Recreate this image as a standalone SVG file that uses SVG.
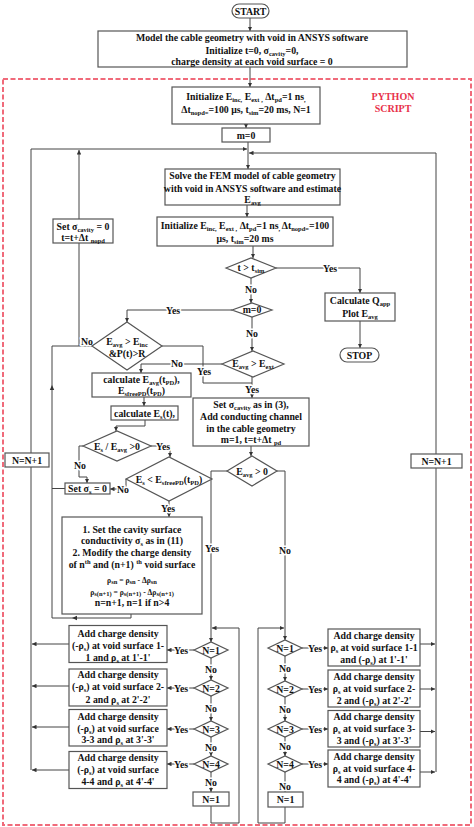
<svg xmlns="http://www.w3.org/2000/svg" width="474" height="827" viewBox="0 0 474 827">
<defs>
<marker id="a" viewBox="0 0 6 6" refX="6" refY="3" markerWidth="4.5" markerHeight="4.5" orient="auto" markerUnits="userSpaceOnUse"><path d="M0,0 L6,3 L0,6 z" fill="#333"/></marker>
<style>
.t{font-family:"Liberation Serif","Times New Roman",serif;font-weight:bold;font-size:9.8px;text-anchor:middle;fill:#111}
.s{font-size:6.5px}
.f{font-size:7.6px}
.l{paint-order:stroke;stroke:#fff;stroke-width:3px;stroke-linejoin:round}
.b{fill:#fff;stroke:#555;stroke-width:1.2}
.c{fill:none;stroke:#444;stroke-width:1}
.ar{marker-end:url(#a)}
.red{fill:#e8324a;font-size:10px}
</style>
</defs>
<rect x="0" y="0" width="474" height="827" fill="#fff"/>
<rect x="3" y="79" width="468" height="746" fill="none" stroke="#f06a7a" stroke-width="2" stroke-dasharray="5 2.5"/>
<g id="python-label"><text class="t red" x="393" y="99.5">PYTHON</text><text class="t red" x="393" y="112">SCRIPT</text></g>

<g id="connectors">
<path class="c ar" d="M250,18 V31"/>
<path class="c ar" d="M250,67 V87"/>
<path class="c ar" d="M246,124 V128"/>
<path class="c ar" d="M248,142 V169"/>
<path class="c ar" d="M31,770 V149 H247"/>
<path class="c ar" d="M436,772 V153 H249"/>
<path class="c ar" d="M79,219 V150"/>
<path class="c" d="M79,243 V346"/>
<path class="c ar" d="M247,205 V217"/>
<path class="c ar" d="M253,246 V258"/>
<path class="c ar" d="M276,268 H360 V293"/>
<path class="c ar" d="M360,321 V348"/>
<path class="c ar" d="M251,278 V303"/>
<path class="c ar" d="M232,310 H127 V322"/>
<path class="c ar" d="M252,316 V351"/>
<path class="c" d="M92,346 H52 V618"/>
<polygon points="52,385 49.8,390 54.2,390" fill="#333"/>
<path class="c" d="M162,346 H203 V383 H252"/>
<path class="c ar" d="M252,377 V398"/>
<path class="c ar" d="M222,364 H141 V373"/>
<path class="c ar" d="M144,397 V406"/>
<path class="c ar" d="M145,420 V426 H116 V431"/>
<path class="c ar" d="M151,446 H170 V457"/>
<path class="c ar" d="M83,446 H79 V477 H87 V483"/>
<path class="c ar" d="M126,479 V489 H110"/>
<path class="c" d="M65,488.5 H52"/>
<path class="c ar" d="M169,501 V517"/>
<path class="c" d="M131,614 V618 H52"/>
<polygon points="72,618 77,615.8 77,620.2" fill="#333"/>
<path class="c ar" d="M251,446 V456"/>
<path class="c ar" d="M227,471 H211 V642"/>
<path class="c ar" d="M277,471 H285 V640"/>
<path class="c ar" d="M211,806 V823 H239 V628 H212"/>
<path class="c ar" d="M285,807 V823 H258 V628 H284"/>
<path class="c ar" d="M211,658 V680"/>
<path class="c ar" d="M211,696 V721"/>
<path class="c ar" d="M211,737 V756"/>
<path class="c ar" d="M211,772 V792"/>
<path class="c ar" d="M285,656 V681"/>
<path class="c ar" d="M285,697 V721"/>
<path class="c ar" d="M285,737 V756"/>
<path class="c ar" d="M285,772 V792"/>
<path class="c ar" d="M194,650 H167"/>
<path class="c ar" d="M194,688 H167"/>
<path class="c ar" d="M194,729 H167"/>
<path class="c ar" d="M194,764 H167"/>
<path class="c ar" d="M302,648 H328"/>
<path class="c ar" d="M302,689 H328"/>
<path class="c ar" d="M302,729 H328"/>
<path class="c ar" d="M302,764 H328"/>
<path class="c ar" d="M69,644 H32"/>
<path class="c ar" d="M69,686 H32"/>
<path class="c ar" d="M69,727 H32"/>
<path class="c ar" d="M69,770 H32"/>
<path class="c ar" d="M420,644 H435"/>
<path class="c ar" d="M420,689 H435"/>
<path class="c ar" d="M420,731.5 H435"/>
<path class="c ar" d="M420,772 H435"/>
<g class="t l">
<text x="330" y="271.5">Yes</text>
<text x="251" y="293">No</text>
<text x="173" y="313.5">Yes</text>
<text x="252" y="336.5">No</text>
<text x="87" y="345">No</text>
<text x="204" y="374.5">Yes</text>
<text x="252" y="392.5">Yes</text>
<text x="177" y="367">No</text>
<text x="163" y="449.5">Yes</text>
<text x="80" y="469">No</text>
<text x="123" y="492.5">No</text>
<text x="168" y="511.5">Yes</text>
<text x="212" y="551.5">Yes</text>
<text x="285" y="554">No</text>
<text x="181" y="653.5">Yes</text>
<text x="181" y="691.5">Yes</text>
<text x="181" y="732.5">Yes</text>
<text x="181" y="767.5">Yes</text>
<text x="315" y="651.5">Yes</text>
<text x="315" y="692.5">Yes</text>
<text x="315" y="732.5">Yes</text>
<text x="315" y="767.5">Yes</text>
<text x="211" y="672.5">No</text>
<text x="211" y="712">No</text>
<text x="211" y="750.5">No</text>
<text x="211" y="786">No</text>
<text x="285" y="671.5">No</text>
<text x="285" y="712.5">No</text>
<text x="285" y="749.5">No</text>
<text x="285" y="789.5">No</text>
</g>
</g>

<g id="start"><rect class="b" x="232" y="4" width="37" height="14" rx="7" stroke-width="1.6"/><text class="t" x="250.5" y="14.5">START</text></g>

<g id="model"><rect class="b" x="98" y="31" width="309" height="36"/>
<text class="t" x="252" y="41">Model the cable geometry with void in ANSYS software</text>
<text class="t" x="252" y="53.5">Initialize t=0, σ<tspan class="s" dy="2">cavity</tspan><tspan dy="-2">=0,</tspan></text>
<text class="t" x="252" y="65">charge density at each void surface = 0</text></g>

<g id="init1"><rect class="b" x="172" y="87" width="148" height="37"/>
<text class="t" x="246" y="100">Initialize E<tspan class="s" dy="2">inc,</tspan><tspan dy="-2"> E</tspan><tspan class="s" dy="2">ext ,</tspan><tspan dy="-2"> Δt</tspan><tspan class="s" dy="2">pd</tspan><tspan dy="-2">=1 ns</tspan><tspan class="s" dy="2">,</tspan></text>
<text class="t" x="246" y="113">Δt<tspan class="s" dy="2">nopd=</tspan><tspan dy="-2">=100 μs, t</tspan><tspan class="s" dy="2">sim</tspan><tspan dy="-2">=20  ms, N=1</tspan></text></g>

<g id="m0"><rect class="b" x="222" y="128" width="48" height="14"/><text class="t" x="246" y="138.5">m=0</text></g>

<g id="solve"><rect class="b" x="165" y="169" width="175" height="36"/>
<text class="t" x="252.5" y="179">Solve the FEM model of cable geometry</text>
<text class="t" x="252.5" y="191.5">with void  in ANSYS software and estimate</text>
<text class="t" x="252.5" y="203">E<tspan class="s" dy="2">avg</tspan></text></g>

<g id="init2"><rect class="b" x="157" y="217" width="176" height="29"/>
<text class="t" x="245" y="229">Initialize E<tspan class="s" dy="2">inc,</tspan><tspan dy="-2"> E</tspan><tspan class="s" dy="2">ext ,</tspan><tspan dy="-2"> Δt</tspan><tspan class="s" dy="2">pd</tspan><tspan dy="-2">=1 ns</tspan><tspan class="s" dy="2">, </tspan><tspan dy="-2">Δt</tspan><tspan class="s" dy="2">nopd=</tspan><tspan dy="-2">=100</tspan></text>
<text class="t" x="245" y="241.5">μs, t<tspan class="s" dy="2">sim</tspan><tspan dy="-2">=20  ms</tspan></text></g>

<g id="set-cavity-zero"><rect class="b" x="53" y="219" width="60" height="24"/>
<text class="t" x="83" y="229.5">Set σ<tspan class="s" dy="2">cavity</tspan><tspan dy="-2"> = 0</tspan></text>
<text class="t" x="83" y="241">t=t+Δt <tspan class="s" dy="2">nopd</tspan></text></g>

<g id="d-tsim"><polygon class="b" points="226,268 251,258 276,268 251,278"/><text class="t" x="251" y="271">t &gt; t<tspan class="s" dy="2">sim</tspan></text></g>

<g id="qapp"><rect class="b" x="325" y="293" width="70" height="28"/>
<text class="t" x="360" y="304">Calculate Q<tspan class="s" dy="2">app</tspan></text>
<text class="t" x="360" y="316.5">Plot E<tspan class="s" dy="2">avg</tspan></text></g>

<g id="stop"><rect class="b" x="340" y="348" width="39" height="14" rx="7" stroke-width="1.6"/><text class="t" x="359.5" y="358.5">STOP</text></g>

<g id="d-m0"><polygon class="b" points="232,310 252,303 272,310 252,317"/><text class="t" x="252" y="313.3">m=0</text></g>

<g id="d-einc"><polygon class="b" points="92,346 127,322 162,346 127,370"/>
<text class="t" x="127" y="345">E<tspan class="s" dy="2">avg</tspan><tspan dy="-2"> &gt; E</tspan><tspan class="s" dy="2">inc</tspan></text>
<text class="t" x="127" y="356.5">&amp;P(t)&gt;R</text></g>

<g id="d-eext"><polygon class="b" points="222,364 253,351 284,364 253,377"/><text class="t" x="253" y="367">E<tspan class="s" dy="2">avg</tspan><tspan dy="-2"> &gt; E</tspan><tspan class="s" dy="2">ext</tspan></text></g>

<g id="calc-eavg"><rect class="b" x="92" y="373" width="99" height="24"/>
<text class="t" x="141.5" y="382.5">calculate E<tspan class="s" dy="2">avg</tspan><tspan dy="-2">(t</tspan><tspan class="s" dy="2">PD</tspan><tspan dy="-2">),</tspan></text>
<text class="t" x="141.5" y="394">E<tspan class="s" dy="2">sfreePD</tspan><tspan dy="-2">(t</tspan><tspan class="s" dy="2">PD</tspan><tspan dy="-2">)</tspan></text></g>

<g id="calc-es"><rect class="b" x="111" y="406" width="67" height="14"/><text class="t" x="144.5" y="416.5">calculate E<tspan class="s" dy="2">s</tspan><tspan dy="-2">(t),</tspan></text></g>

<g id="d-ratio"><polygon class="b" points="83,446 117,431 151,446 117,461"/><text class="t" x="117" y="449.5">E<tspan class="s" dy="2">s</tspan><tspan dy="-2"> / E</tspan><tspan class="s" dy="2">avg</tspan><tspan dy="-2"> &gt;0</tspan></text></g>

<g id="d-esfree"><polygon class="b" points="126,479 169,457 212,479 169,501"/><text class="t" x="169" y="482.5">E<tspan class="s" dy="2">s</tspan><tspan dy="-2"> &lt; E</tspan><tspan class="s" dy="2">sfreePD</tspan><tspan dy="-2">(t</tspan><tspan class="s" dy="2">PD</tspan><tspan dy="-2">)</tspan></text></g>

<g id="set-sigma-zero"><rect class="b" x="65" y="483" width="45" height="11"/><text class="t" x="87.5" y="492">Set σ<tspan class="s" dy="2">s</tspan><tspan dy="-2"> = 0</tspan></text></g>

<g id="set-conductivity"><rect class="b" x="62" y="517" width="140" height="97"/>
<text class="t" x="132" y="532.5">1. Set the cavity surface</text>
<text class="t" x="132" y="544">conductivity σ<tspan class="s" dy="2">s</tspan><tspan dy="-2">  as in (11)</tspan></text>
<text class="t" x="132" y="555.5">2. Modify the charge density</text>
<text class="t" x="132" y="567.5">of n<tspan class="s" dy="-3.5">th</tspan><tspan dy="3.5"> and (n+1) </tspan><tspan class="s" dy="-3.5">th</tspan><tspan dy="3.5"> void surface</tspan></text>
<text class="t f" x="132" y="582.5">ρ<tspan class="s" dy="1.5">sn</tspan><tspan dy="-1.5">  = ρ</tspan><tspan class="s" dy="1.5">sn</tspan><tspan dy="-1.5"> - Δρ</tspan><tspan class="s" dy="1.5">sn</tspan></text>
<text class="t f" x="132" y="594.5">ρ<tspan class="s" dy="1.5">s(n+1)</tspan><tspan dy="-1.5">  = ρ</tspan><tspan class="s" dy="1.5">s(n+1)</tspan><tspan dy="-1.5"> - Δρ</tspan><tspan class="s" dy="1.5">s(n+1)</tspan></text>
<text class="t" x="132" y="605.5">n=n+1, n=1 if n&gt;4</text></g>

<g id="set-cavity-3"><rect class="b" x="193" y="398" width="116" height="48"/>
<text class="t" x="251" y="407.5">Set σ<tspan class="s" dy="2">cavity</tspan><tspan dy="-2"> as in  (3),</tspan></text>
<text class="t" x="251" y="420">Add conducting channel</text>
<text class="t" x="251" y="431.5">in the cable geometry</text>
<text class="t" x="251" y="443">m=1, t=t+Δt <tspan class="s" dy="2">pd</tspan></text></g>

<g id="d-eavg0"><polygon class="b" points="227,471 252,456 277,471 252,486"/><text class="t" x="252" y="474.5">E<tspan class="s" dy="2">avg</tspan><tspan dy="-2"> &gt; 0</tspan></text></g>

<g id="nn1-left"><rect class="b" x="5" y="453" width="44" height="14"/><text class="t" x="27" y="463.5">N=N+1</text></g>
<g id="nn1-right"><rect class="b" x="411" y="454" width="51" height="14"/><text class="t" x="436.5" y="464.5">N=N+1</text></g>

<g id="dl1"><polygon class="b" points="194,650 211,642 228,650 211,658"/><text class="t" x="211" y="653.5">N=1</text></g>
<g id="dl2"><polygon class="b" points="194,688 211,680 228,688 211,696"/><text class="t" x="211" y="691.5">N=2</text></g>
<g id="dl3"><polygon class="b" points="194,729 211,721 228,729 211,737"/><text class="t" x="211" y="732.5">N=3</text></g>
<g id="dl4"><polygon class="b" points="194,764 211,756 228,764 211,772"/><text class="t" x="211" y="767.5">N=4</text></g>
<g id="dr1"><polygon class="b" points="268,648 285,640 302,648 285,656"/><text class="t" x="285" y="651.5">N=1</text></g>
<g id="dr2"><polygon class="b" points="268,689 285,681 302,689 285,697"/><text class="t" x="285" y="692.5">N=2</text></g>
<g id="dr3"><polygon class="b" points="268,729 285,721 302,729 285,737"/><text class="t" x="285" y="732.5">N=3</text></g>
<g id="dr4"><polygon class="b" points="268,764 285,756 302,764 285,772"/><text class="t" x="285" y="767.5">N=4</text></g>

<g id="n1-left"><rect class="b" x="193" y="792" width="36" height="14"/><text class="t" x="211" y="802.5">N=1</text></g>
<g id="n1-right"><rect class="b" x="268" y="792" width="35" height="15"/><text class="t" x="285.5" y="803">N=1</text></g>

<g id="l1"><rect class="b" x="69" y="625.5" width="98" height="37"/>
<text class="t" x="118" y="636.5">Add charge density</text>
<text class="t" x="118" y="649">(-ρ<tspan class="s" dy="2">s</tspan><tspan dy="-2">) at  void surface 1-</tspan></text>
<text class="t" x="118" y="661">1 and ρ<tspan class="s" dy="2">s</tspan><tspan dy="-2"> at 1'-1'</tspan></text></g>
<g id="l2"><rect class="b" x="69" y="669" width="98" height="37"/>
<text class="t" x="118" y="677.5">Add charge density</text>
<text class="t" x="118" y="690">(-ρ<tspan class="s" dy="2">s</tspan><tspan dy="-2">) at void surface 2-</tspan></text>
<text class="t" x="118" y="702.5">2 and ρ<tspan class="s" dy="2">s</tspan><tspan dy="-2"> at 2'-2'</tspan></text></g>
<g id="l3"><rect class="b" x="69" y="709.5" width="98" height="36.5"/>
<text class="t" x="118" y="720">Add charge density</text>
<text class="t" x="118" y="731.5">(-ρ<tspan class="s" dy="2">s</tspan><tspan dy="-2">) at  void surface</tspan></text>
<text class="t" x="118" y="743.3">3-3 and ρ<tspan class="s" dy="2">s</tspan><tspan dy="-2"> at 3'-3'</tspan></text></g>
<g id="l4"><rect class="b" x="69" y="751.5" width="98" height="37"/>
<text class="t" x="118" y="761">Add charge density</text>
<text class="t" x="118" y="773.3">(-ρ<tspan class="s" dy="2">s</tspan><tspan dy="-2">) at void surface</tspan></text>
<text class="t" x="118" y="785">4-4 and ρ<tspan class="s" dy="2">s</tspan><tspan dy="-2"> at 4'-4'</tspan></text></g>

<g id="r1"><rect class="b" x="328" y="629" width="92" height="37"/>
<text class="t" x="374" y="639">Add charge density</text>
<text class="t" x="374" y="651">ρ<tspan class="s" dy="2">s</tspan><tspan dy="-2"> at void surface 1-1</tspan></text>
<text class="t" x="374" y="663.3">and (-ρ<tspan class="s" dy="2">s</tspan><tspan dy="-2">) at 1'-1'</tspan></text></g>
<g id="r2"><rect class="b" x="328" y="670" width="92" height="37"/>
<text class="t" x="374" y="680">Add charge density</text>
<text class="t" x="374" y="692.3">ρ<tspan class="s" dy="2">s</tspan><tspan dy="-2"> at  void surface 2-</tspan></text>
<text class="t" x="374" y="703.5">2 and (-ρ<tspan class="s" dy="2">s</tspan><tspan dy="-2">) at 2'-2'</tspan></text></g>
<g id="r3"><rect class="b" x="328" y="710.5" width="92" height="36.5"/>
<text class="t" x="374" y="720">Add charge density</text>
<text class="t" x="374" y="732.3">ρ<tspan class="s" dy="2">s</tspan><tspan dy="-2"> at void surface  3-</tspan></text>
<text class="t" x="374" y="744.3">3 and  (-ρ<tspan class="s" dy="2">s</tspan><tspan dy="-2">) at 3'-3'</tspan></text></g>
<g id="r4"><rect class="b" x="328" y="750" width="92" height="37"/>
<text class="t" x="374" y="760">Add charge density</text>
<text class="t" x="374" y="771.6">ρ<tspan class="s" dy="2">s</tspan><tspan dy="-2"> at void surface  4-</tspan></text>
<text class="t" x="374" y="783.3">4 and  (-ρ<tspan class="s" dy="2">s</tspan><tspan dy="-2">) at 4'-4'</tspan></text></g>
</svg>
